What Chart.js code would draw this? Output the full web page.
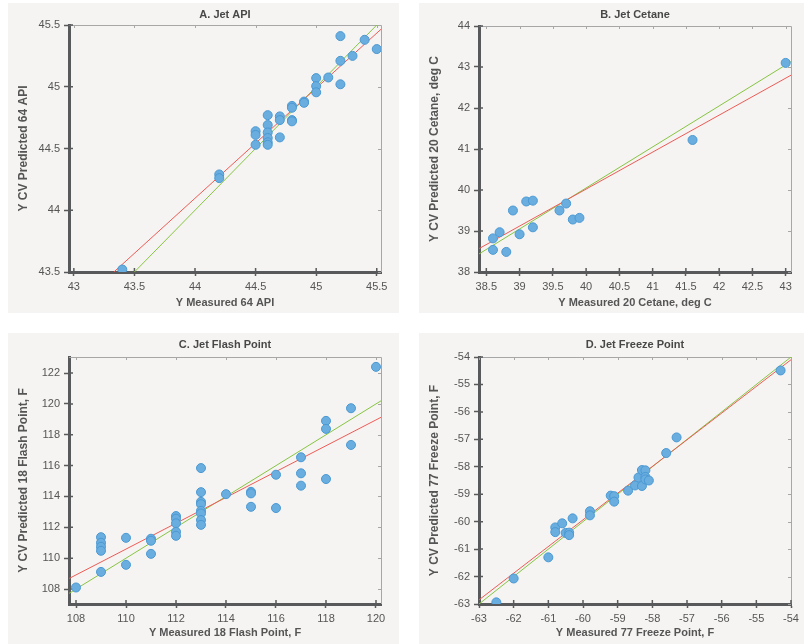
<!DOCTYPE html>
<html lang="en">
  <head>
    <meta charset="UTF-8" />
    <title>Jet property CV predictions</title>
    <script src="https://cdn.jsdelivr.net/npm/chart.js"></script>
    <style>
      * {
        margin: 0;
        padding: 0;
        box-sizing: border-box;
      }

      body {
        width: 811px;
        height: 644px;
        background: #ffffff;
        position: relative;
        overflow: hidden;
      }

      .panel {
        position: absolute;
        background: #f5f4f2;
      }

      #panelA { left: 8px; top: 3px; width: 391px; height: 310px; }
      #panelB { left: 419px; top: 3px; width: 385px; height: 310px; }
      #panelC { left: 8px; top: 333px; width: 391px; height: 311px; }
      #panelD { left: 419px; top: 333px; width: 385px; height: 311px; }
    </style>
  </head>
  <body>
    <div class="panel" id="panelA"><canvas id="chartA"></canvas></div>
    <div class="panel" id="panelB"><canvas id="chartB"></canvas></div>
    <div class="panel" id="panelC"><canvas id="chartC"></canvas></div>
    <div class="panel" id="panelD"><canvas id="chartD"></canvas></div>

    <script>
      // A. Jet API
      const apiMeasured = [43.4, 44.2, 44.2, 44.5, 44.5, 44.5, 44.6, 44.6, 44.6, 44.6, 44.6, 44.6,
        44.7, 44.7, 44.7, 44.8, 44.8, 44.8, 44.8, 44.9, 44.9, 45.0, 45.0, 45.0, 45.1,
        45.2, 45.2, 45.2, 45.3, 45.4, 45.5];
      const apiPredicted = [43.52, 44.29, 44.26, 44.64, 44.61, 44.53, 44.77, 44.69, 44.63, 44.585, 44.55, 44.53,
        44.76, 44.73, 44.59, 44.845, 44.83, 44.73, 44.72, 44.88, 44.87, 45.07, 45.005, 44.955, 45.075,
        45.41, 45.21, 45.02, 45.25, 45.38, 45.305];
      const apiFitX = [43.33, 45.54];
      const apiFitY = [43.5, 45.47];
      const apiRefX = [43.5, 45.51];
      const apiXTicks = [43, 43.5, 44, 44.5, 45, 45.5];
      const apiYTicks = [43.5, 44, 44.5, 45, 45.5];

      // B. Jet Cetane
      const cetaneMeasured = [38.6, 38.6, 38.7, 38.8, 38.9, 39.0, 39.1, 39.2, 39.2, 39.6, 39.7, 39.8, 39.9, 41.6, 43.0];
      const cetanePredicted = [38.82, 38.54, 38.97, 38.49, 39.5, 38.92, 39.72, 39.74, 39.09, 39.5, 39.67, 39.28, 39.32, 41.22, 43.1];
      const cetaneFitX = [38.39, 43.08];
      const cetaneFitY = [38.57, 42.8];
      const cetaneRefX = [38.39, 43.08];
      const cetaneRefY = [38.44, 43.13];
      const cetaneXTicks = [38.5, 39, 39.5, 40, 40.5, 41, 41.5, 42, 42.5, 43];
      const cetaneYTicks = [38, 39, 40, 41, 42, 43, 44];

      // C. Jet Flash Point
      const flashMeasured = [108, 109, 109, 109, 109, 109, 110, 110, 111, 111, 111,
        112, 112, 112, 112, 112, 113, 113, 113, 113, 113, 113, 113, 113,
        114, 115, 115, 115, 116, 116, 117, 117, 117, 118, 118, 118, 119, 119, 120];
      const flashPredicted = [108.1, 111.36, 111.0, 110.74, 110.48, 109.11, 111.32, 109.57, 111.26, 111.13, 110.28,
        112.73, 112.56, 112.26, 111.71, 111.45, 115.84, 114.28, 113.65, 113.5, 113.07, 112.9, 112.47, 112.16,
        114.15, 114.3, 114.2, 113.33, 115.41, 113.25, 116.54, 115.5, 114.7, 118.9, 118.38, 115.13, 119.72, 117.34, 122.4];
      const flashFitX = [107.72, 120.2];
      const flashFitY = [108.68, 119.13];
      const flashRefX = [107.72, 120.2];
      const flashXTicks = [108, 110, 112, 114, 116, 118, 120];
      const flashYTicks = [108, 110, 112, 114, 116, 118, 120, 122];

      // D. Jet Freeze Point
      const freezeMeasured = [-62.5, -62.0, -61.0, -60.8, -60.8, -60.6, -60.5, -60.4, -60.4, -60.3,
        -59.8, -59.8, -59.2, -59.1, -59.1, -58.7, -58.5, -58.4, -58.3, -58.3,
        -58.2, -58.2, -58.2, -58.1, -57.6, -57.3, -54.3];
      const freezePredicted = [-62.94, -62.07, -61.3, -60.21, -60.38, -60.06, -60.41, -60.4, -60.49, -59.88,
        -59.62, -59.77, -59.05, -59.07, -59.27, -58.87, -58.68, -58.39, -58.12, -58.7,
        -58.13, -58.37, -58.46, -58.5, -57.5, -56.93, -54.49];
      const freezeFitX = [-63, -54];
      const freezeFitY = [-62.85, -54.1];
      const freezeRefX = [-63, -54];
      const freezeXTicks = [-63, -62, -61, -60, -59, -58, -57, -56, -55, -54];
      const freezeYTicks = [-63, -62, -61, -60, -59, -58, -57, -56, -55, -54];

      const axisColor = "#58595b";
      const frameColor = "#a7a7a7";
      const textColor = "#555555";
      const font = "'Liberation Sans', Arial, sans-serif";

      function toPoints(xs, ys) {
        return xs.map((x, i) => ({ x: x, y: ys[i] }));
      }

      // thin top/right frame and the small inner tick marks
      const framePlugin = {
        id: "frame",
        beforeDatasetsDraw(chart) {
          const { ctx, chartArea: a, scales } = chart;
          ctx.save();
          ctx.strokeStyle = frameColor;
          ctx.lineWidth = 1;
          ctx.beginPath();
          ctx.moveTo(a.left, a.top + 0.5);
          ctx.lineTo(a.right + 0.5, a.top + 0.5);
          ctx.lineTo(a.right + 0.5, a.bottom);
          scales.x.ticks.forEach((t) => {
            const px = Math.round(scales.x.getPixelForValue(t.value)) + 0.5;
            ctx.moveTo(px, a.top);
            ctx.lineTo(px, a.top + 3);
          });
          scales.y.ticks.forEach((t) => {
            const py = Math.round(scales.y.getPixelForValue(t.value)) + 0.5;
            ctx.moveTo(a.right, py);
            ctx.lineTo(a.right - 3, py);
          });
          ctx.stroke();
          ctx.strokeStyle = axisColor;
          ctx.lineWidth = 1.5;
          ctx.beginPath();
          scales.x.ticks.forEach((t) => {
            const px = scales.x.getPixelForValue(t.value);
            ctx.moveTo(px, a.bottom);
            ctx.lineTo(px, a.bottom - 4);
          });
          scales.y.ticks.forEach((t) => {
            const py = scales.y.getPixelForValue(t.value);
            ctx.moveTo(a.left, py);
            ctx.lineTo(a.left + 4, py);
          });
          ctx.stroke();
          ctx.restore();
        },
      };

      function makeChart(cfg) {
        const topH = cfg.box.top;
        return new Chart(document.getElementById(cfg.id), {
          type: "scatter",
          data: {
            datasets: [
              {
                data: toPoints(cfg.mx, cfg.my),
                backgroundColor: "#6aaee0",
                borderColor: "#4a98d2",
                borderWidth: 1,
                pointRadius: 4.5,
              },
              {
                data: toPoints(cfg.fitX, cfg.fitY),
                showLine: true,
                pointRadius: 0,
                borderColor: "#ee5a55",
                borderWidth: 1,
              },
              {
                data: toPoints(cfg.refX, cfg.refY),
                showLine: true,
                pointRadius: 0,
                borderColor: "#86c440",
                borderWidth: 1,
              },
            ],
          },
          options: {
            responsive: true,
            maintainAspectRatio: false,
            animation: false,
            layout: { padding: { left: 0, right: cfg.box.right, top: 0, bottom: 0 } },
            plugins: {
              legend: { display: false },
              tooltip: { enabled: false },
              title: {
                display: true,
                text: cfg.title,
                fullSize: false,
                color: "#484848",
                font: { family: font, size: 11, weight: "bold", lineHeight: 1.2 },
                padding: { top: 5, bottom: topH - 18.2 },
              },
            },
            scales: {
              x: {
                type: "linear",
                min: cfg.xRange[0],
                max: cfg.xRange[1],
                afterBuildTicks: (s) => { s.ticks = cfg.xTicks.map((v) => ({ value: v })); },
                afterFit: (s) => { s.height = cfg.box.bottom; },
                border: { display: true, color: axisColor, width: 3 },
                grid: { drawOnChartArea: false, drawTicks: true, tickLength: 4, tickWidth: 1.5, color: axisColor },
                ticks: {
                  color: textColor,
                  padding: 4,
                  maxRotation: 0,
                  autoSkip: false,
                  font: { family: font, size: 11 },
                  callback: (v) => String(v),
                },
                title: {
                  display: true,
                  text: cfg.xTitle,
                  color: textColor,
                  font: { family: font, size: 11, weight: "bold", lineHeight: 1.2 },
                  padding: { top: 0, bottom: cfg.xTitlePad },
                },
              },
              y: {
                type: "linear",
                min: cfg.yRange[0],
                max: cfg.yRange[1],
                afterBuildTicks: (s) => { s.ticks = cfg.yTicks.map((v) => ({ value: v })); },
                afterFit: (s) => { s.width = cfg.box.left; },
                border: { display: true, color: axisColor, width: 3 },
                grid: { drawOnChartArea: false, drawTicks: true, tickLength: 5, tickWidth: 1.5, color: axisColor },
                ticks: {
                  color: textColor,
                  padding: 4,
                  autoSkip: false,
                  font: { family: font, size: 11 },
                  callback: (v) => String(v),
                },
                title: {
                  display: true,
                  text: cfg.yTitle,
                  color: textColor,
                  font: { family: font, size: 12, weight: "bold", lineHeight: 1.2 },
                  padding: { top: 8, bottom: 0 },
                },
              },
            },
          },
          plugins: [framePlugin],
        });
      }

      makeChart({
        id: "chartA",
        title: "A. Jet API",
        xTitle: "Y Measured 64 API",
        yTitle: "Y CV Predicted 64 API",
        mx: apiMeasured, my: apiPredicted,
        fitX: apiFitX, fitY: apiFitY,
        refX: apiRefX, refY: apiRefX,
        xTicks: apiXTicks, yTicks: apiYTicks,
        xRange: [42.96, 45.535], yRange: [43.5, 45.5],
        box: { left: 61, right: 18, top: 22, bottom: 41 },
        xTitlePad: 3,
      });

      makeChart({
        id: "chartB",
        title: "B. Jet Cetane",
        xTitle: "Y Measured 20 Cetane, deg C",
        yTitle: "Y CV Predicted 20 Cetane, deg C",
        mx: cetaneMeasured, my: cetanePredicted,
        fitX: cetaneFitX, fitY: cetaneFitY,
        refX: cetaneRefX, refY: cetaneRefY,
        xTicks: cetaneXTicks, yTicks: cetaneYTicks,
        xRange: [38.39, 43.08], yRange: [38, 44],
        box: { left: 60, right: 13, top: 23, bottom: 41 },
        xTitlePad: 3,
      });

      makeChart({
        id: "chartC",
        title: "C. Jet Flash Point",
        xTitle: "Y Measured 18 Flash Point, F",
        yTitle: "Y CV Predicted 18 Flash Point, F",
        mx: flashMeasured, my: flashPredicted,
        fitX: flashFitX, fitY: flashFitY,
        refX: flashRefX, refY: flashRefX,
        xTicks: flashXTicks, yTicks: flashYTicks,
        xRange: [107.72, 120.2], yRange: [107.03, 123.04],
        box: { left: 61, right: 18, top: 24, bottom: 40 },
        xTitlePad: 4,
      });

      makeChart({
        id: "chartD",
        title: "D. Jet Freeze Point",
        xTitle: "Y Measured 77 Freeze Point, F",
        yTitle: "Y CV Predicted 77 Freeze Point, F",
        mx: freezeMeasured, my: freezePredicted,
        fitX: freezeFitX, fitY: freezeFitY,
        refX: freezeRefX, refY: freezeRefX,
        xTicks: freezeXTicks, yTicks: freezeYTicks,
        xRange: [-63, -54], yRange: [-63, -54],
        box: { left: 60, right: 13, top: 24, bottom: 40 },
        xTitlePad: 4,
      });
    </script>
  </body>
</html>
